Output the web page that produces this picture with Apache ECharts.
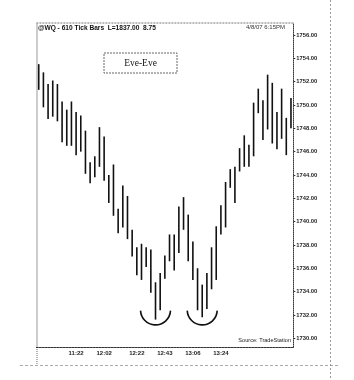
<!DOCTYPE html>
<html><head><meta charset="utf-8">
<script src="https://cdn.jsdelivr.net/npm/echarts@6/dist/echarts.min.js"></script>
<style>html,body{margin:0;padding:0;background:#fff}#c{width:354px;height:380px}</style>
</head><body><div id="c"></div>
<script>
// OHLC tick bars (high-low ranges)
const highs = [1753.5,1752.8,1751.8,1752.1,1751.8,1750.3,1749.6,1750.3,1749.4,1749.1,
  1747.8,1745.1,1745.6,1748.1,1747.3,1744.0,1744.9,1741.1,1743.1,1742.2,
  1739.3,1737.8,1738.1,1737.8,1737.6,1734.8,1735.6,1737.1,1738.9,1738.9,
  1741.3,1742.1,1740.6,1738.3,1736.0,1734.6,1735.6,1737.8,1739.6,1741.4,
  1743.4,1744.5,1744.7,1746.3,1747.4,1746.6,1750.2,1751.4,1750.4,1752.6,
  1751.9,1749.4,1751.4,1748.9,1750.6];
const lows = [1751.3,1749.8,1748.8,1749.0,1748.6,1746.8,1746.5,1746.5,1745.7,1746.0,
  1744.1,1743.3,1743.8,1744.7,1743.5,1741.6,1740.5,1739.0,1739.5,1738.5,
  1737.0,1735.4,1735.0,1736.1,1733.9,1731.6,1732.4,1735.1,1736.6,1735.8,
  1737.3,1739.3,1736.6,1735.0,1732.4,1731.8,1732.5,1734.2,1735.0,1738.9,
  1739.5,1742.9,1741.6,1744.3,1744.7,1744.7,1745.6,1749.3,1747.0,1747.9,
  1746.7,1746.2,1747.1,1745.7,1748.0];
const timeLabelIdx = [8,14,21,27,33,39];
const timeLabels = ['11:22','12:02','12:22','12:43','13:06','13:24'];
const yTicks = [1730,1732,1734,1736,1738,1740,1742,1744,1746,1748,1750,1752,1754,1756];
// two "eve" troughs: [bar index, price] centers of the annotation arcs
const arcCenters = [[25.05,1732.43],[34.5,1732.43]];

const categories = highs.map((_, i) => {
  const k = timeLabelIdx.indexOf(i);
  return k >= 0 ? timeLabels[k] : '';
});
const barData = highs.map((h, i) => [i, lows[i], h]);

const chart = echarts.init(document.getElementById('c'), null, {renderer:'canvas'});
const font = 'Liberation Sans';
chart.setOption({
  animation:false,
  backgroundColor:'#fff',
  grid:{left:36.4, right:60.7, top:23, bottom:33, show:true, borderWidth:0},
  xAxis:{type:'category', data:categories, boundaryGap:true,
    axisLine:{show:true, lineStyle:{color:'#333', width:1, type:[2,1]}},
    axisTick:{show:false},
    axisLabel:{interval:(i,v)=>v!=='', fontSize:6, fontWeight:'bold', color:'#222', fontFamily:font, margin:3}
  },
  yAxis:{type:'value', position:'right', min:1729.25, max:1757.03, scale:true,
    axisLine:{show:true, lineStyle:{color:'#333', width:1, type:[1,1]}},
    axisTick:{show:true, length:2, customValues:yTicks, lineStyle:{color:'#333'}},
    splitLine:{show:false},
    axisLabel:{customValues:yTicks, formatter:v=>v.toFixed(2), fontSize:5.8, fontWeight:'bold',
      color:'#222', fontFamily:font, margin:3}
  },
  series:[{
    type:'custom',
    data:barData,
    encode:{x:0, y:[1,2]},
    renderItem:(params, api) => {
      const p1 = api.coord([api.value(0), api.value(1)]);
      const p2 = api.coord([api.value(0), api.value(2)]);
      return {type:'line', shape:{x1:p1[0], y1:p1[1], x2:p2[0], y2:p2[1]},
        style:{stroke:'#111', lineWidth:1.6}};
    }
  }]
});

const g = [];
// frame lines
g.push({type:'line', shape:{x1:36.4,y1:23,x2:293.3,y2:23}, style:{stroke:'#777',lineWidth:1,lineDash:[2,1]}});
g.push({type:'line', shape:{x1:37,y1:23,x2:37,y2:347}, style:{stroke:'#999',lineWidth:1}});
g.push({type:'line', shape:{x1:37,y1:347,x2:37,y2:365}, style:{stroke:'#666',lineWidth:1,lineDash:[1,1]}});
g.push({type:'line', shape:{x1:20,y1:365.5,x2:340,y2:365.5}, style:{stroke:'#aaa',lineWidth:1,lineDash:[3,2]}});
g.push({type:'line', shape:{x1:330.5,y1:0,x2:330.5,y2:380}, style:{stroke:'#999',lineWidth:1,lineDash:[2,2]}});
// texts
g.push({type:'text', x:38, y:28.5, style:{text:'@WQ - 610 Tick Bars  L=1837.00  8.75', font:'bold 6.6px '+font, fill:'#111', textVerticalAlign:'middle'}});
g.push({type:'text', x:285, y:27, style:{text:'4/8/07 6:15PM', font:'6px '+font, fill:'#333', textAlign:'right', textVerticalAlign:'middle'}});
g.push({type:'rect', shape:{x:104,y:53,width:73,height:20}, style:{fill:'#fff',stroke:'#666',lineWidth:1,lineDash:[2,1]}});
g.push({type:'text', x:140.5, y:63, style:{text:'Eve-Eve', font:'9.5px "Liberation Serif"', fill:'#111', textAlign:'center', textVerticalAlign:'middle'}});
g.push({type:'text', x:291, y:340.5, style:{text:'Source: TradeStation', font:'5.6px '+font, fill:'#222', textAlign:'right', textVerticalAlign:'middle'}});
// trough arcs
arcCenters.forEach(c => {
  const p = chart.convertToPixel({seriesIndex:0}, c);
  g.push({type:'arc', shape:{cx:p[0], cy:p[1], r:15, startAngle:0.05, endAngle:Math.PI-0.05},
    style:{stroke:'#111', lineWidth:1.6, fill:null}});
});
chart.setOption({graphic:g});
</script></body></html>
